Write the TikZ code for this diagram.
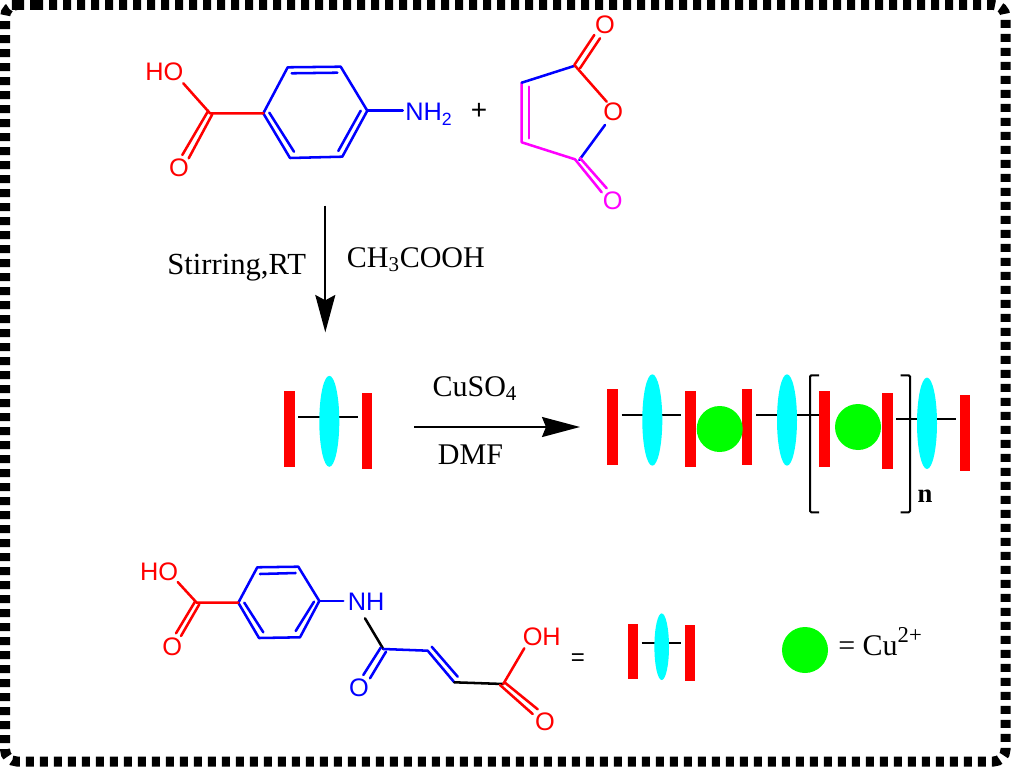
\documentclass[tikz,border=0pt]{standalone}
\usepackage{fontspec}
\setmainfont{Liberation Serif}
\newfontfamily\atomfont{Liberation Sans}
\usetikzlibrary{arrows.meta}
\definecolor{spacercyan}{RGB}{0,255,255}
\definecolor{ionlime}{RGB}{0,255,0}
\definecolor{anhpink}{RGB}{255,0,255}
\definecolor{barred}{RGB}{255,0,0}
\tikzset{
  bond/.style={line width=1.9pt,line cap=round,line join=round},
  atomlabel/.style={inner sep=0pt,anchor=base,font=\atomfont\fontsize{19}{19}\selectfont},
  reagent/.style={inner sep=0pt,anchor=base west,font=\fontsize{22.5}{24}\selectfont},
  linker/.style={line width=1.6pt},
  bracketline/.style={line width=1.5pt,rounded corners=1pt},
  rxnarrow/.style={line width=1.5pt,-{Stealth[length=28pt,width=15pt,inset=4pt]}},
  rxnarrowb/.style={line width=1.5pt,-{Stealth[length=28.5pt,width=15pt,inset=3pt]}}
}
\begin{document}
\begin{tikzpicture}[x=0.75pt,y=-0.75pt]
    \useasboundingbox (0,0) rectangle (1011,767);
    % frame
    \draw[line width=7.5pt,dash pattern=on 6pt off 4.5pt,rounded corners=9pt]
      (23,5) -- (1005.5,5) -- (1005.5,761.5) -- (5,761.5) -- (5,5) -- cycle;

    % aminobenzoic acid
    \coordinate (a1) at (263.3,113.3);
    \coordinate (a2) at (287.7,67.3);
    \coordinate (a3) at (340.7,66.7);
    \coordinate (a4) at (367.3,110.7);
    \coordinate (a5) at (342.3,156.7);
    \coordinate (a6) at (290,158);
    \coordinate (acarb) at (210,113.3);
    \node[atomlabel,barred] (aho) at (164.3,81) {HO};
    \node[atomlabel,barred] (aoxo) at (179,176) {O};
    \node[atomlabel,blue,anchor=base west] (anh) at (405,121) {NH\textsubscript{2}};
    \draw[bond,blue] (a1) -- (a2) -- (a3) -- (a4) -- (a5) -- (a6) -- cycle;
    \draw[bond,blue] (291.7,73.3) -- (337.3,72.7);
    \draw[bond,blue] (269.3,112.7) -- (294,151.7);
    \draw[bond,blue] (360.7,110.7) -- (338.3,151);
    \draw[bond,blue] (a4) -- (402.7,110.7);
    \draw[bond,barred] (a1) -- (acarb) -- (183.3,83.3);
    \draw[bond,barred] (208.3,110.7) -- (182.3,155);
    \draw[bond,barred] (212.3,114.3) -- (188.7,158.3);
    \node[atomlabel,anchor=base,font=\atomfont\fontsize{21}{21}\selectfont] (plus) at (479,119.5) {+};

    % maleic anhydride
    \coordinate (m1) at (521.7,82.7);
    \coordinate (m2) at (575,65.7);
    \coordinate (m3) at (575,159.3);
    \coordinate (m4) at (521.7,142.3);
    \node[atomlabel,barred] (mo) at (613.3,121) {O};
    \node[atomlabel,barred] (mtop) at (605,33.5) {O};
    \node[atomlabel,anhpink] (mbot) at (612.7,209) {O};
    \draw[bond,anhpink] (m1) -- (m4) -- (m3);
    \draw[bond,anhpink] (529,86.7) -- (529,138.3);
    \draw[bond,blue] (m1) -- (m2);
    \draw[bond,barred] (m2) -- (606.7,101.7);
    \draw[bond,blue] (605,125) -- (579.3,160);
    \draw[bond,barred] (574.3,65) -- (594.3,35);
    \draw[bond,barred] (580,68.3) -- (600,38.3);
    \draw[bond,anhpink] (575,159.3) -- (601.7,192.3);
    \draw[bond,anhpink] (580,158) -- (606.7,188.3);

    % first step
    \coordinate (stirtop) at (325.3,205.7);
    \coordinate (stirend) at (325.3,332.3);
    \draw[rxnarrow] (stirtop) -- (stirend);
    \node[reagent,font=\fontsize{23}{24}\selectfont] (stir) at (167,274.3) {Stirring,RT};
    \node[reagent] (acid) at (346.7,267.3) {CH\textsubscript{3}COOH};

    % ligand
    \draw[linker] (298.3,417.3) -- (358.3,417.3);
    \fill[barred] (284.3,391) rectangle (295,466.7);
    \fill[barred] (362,392.7) rectangle (372.3,468.7);
    \fill[spacercyan] (329.3,421.3) ellipse (10 and 45.5);

    % second step
    \coordinate (cutail) at (414.3,427);
    \coordinate (cuhead) at (580,427);
    \draw[rxnarrowb] (cutail) -- (cuhead);
    \node[reagent] (cuso) at (432.3,396.7) {CuSO\textsubscript{4}};
    \node[reagent] (dmf) at (437.7,464) {DMF};

    % polymer
    \draw[linker] (621.7,415.3) -- (681.3,415.3);
    \draw[linker] (756,415.3) -- (820,415.3);
    \draw[linker] (896.3,419.3) -- (956,419.3);
    \draw[bracketline] (819,375.3) -- (810,375.3) -- (810,512.3) -- (819,512.3);
    \draw[bracketline] (900.7,375.3) -- (910,375.3) -- (910,512.3) -- (900.7,512.3);
    \fill[barred] (607.3,389) rectangle (617.7,465);
    \fill[barred] (685,391) rectangle (695.7,466.7);
    \fill[barred] (742,389) rectangle (752.3,465);
    \fill[barred] (819.3,391) rectangle (830,466.7);
    \fill[barred] (882,392.7) rectangle (892.7,468.7);
    \fill[barred] (959.7,394.7) rectangle (970,470.7);
    \fill[spacercyan] (652.3,420) ellipse (10 and 45.7);
    \fill[spacercyan] (787,420) ellipse (10 and 45.7);
    \fill[spacercyan] (927,423.3) ellipse (10 and 45.7);
    \fill[ionlime] (719.7,429) circle (23);
    \fill[ionlime] (858,427) circle (23);
    \node[inner sep=0pt,anchor=base,font=\bfseries\fontsize{20}{20}\selectfont] (rep) at (925,502) {n};

    % product
    \coordinate (p1) at (238.3,602.7);
    \coordinate (p2) at (257.3,567.3);
    \coordinate (p3) at (298.3,566.7);
    \coordinate (p4) at (319.3,601);
    \coordinate (p5) at (300,637.3);
    \coordinate (p6) at (259,638);
    \coordinate (pcarb) at (196.7,602.7);
    \coordinate (pamide) at (383.3,649);
    \coordinate (pch) at (427.7,650.7);
    \coordinate (pchb) at (454.3,682.3);
    \coordinate (pacid) at (503.3,684);
    \node[atomlabel,barred] (pho) at (159,580) {HO};
    \node[atomlabel,barred] (poxo) at (172.3,655) {O};
    \node[atomlabel,blue,anchor=base west] (pnh) at (347.5,610.7) {NH};
    \node[atomlabel,blue] (poxb) at (359,696.7) {O};
    \node[atomlabel,barred,anchor=base west] (poh) at (522.5,645) {OH};
    \node[atomlabel,barred] (poxc) at (545,730.7) {O};
    \draw[bond,blue] (p1) -- (p2) -- (p3) -- (p4) -- (p5) -- (p6) -- cycle;
    \draw[bond,blue] (260,574) -- (295.7,573);
    \draw[bond,blue] (244.3,602.7) -- (263.3,632.3);
    \draw[bond,blue] (314,601.7) -- (295.7,631);
    \draw[bond,blue] (p4) -- (343.3,601);
    \draw[bond,barred] (p1) -- (pcarb) -- (177.7,582);
    \draw[bond,barred] (195,601.7) -- (176,633.3);
    \draw[bond,barred] (199.3,604.3) -- (181,636);
    \draw[bond] (365,618.3) -- (pamide);
    \draw[bond,blue] (380.7,647.7) -- (363.3,675);
    \draw[bond,blue] (386,651.7) -- (370,678.3);
    \draw[bond,blue] (pamide) -- (pch) -- (pchb);
    \draw[bond,blue] (431.7,646.7) -- (457.7,676.7);
    \draw[bond] (pchb) -- (pacid);
    \draw[bond,barred] (pacid) -- (524.3,648.3);
    \draw[bond,barred] (500,685) -- (532.7,714);
    \draw[bond,barred] (505,682.7) -- (537.7,709.3);

    % legend
    \node[inner sep=0pt,anchor=base,font=\atomfont\fontsize{18}{18}\selectfont] (eqa) at (578,665) {=};
    \draw[linker] (641.7,643.3) -- (680.7,643.3);
    \fill[barred] (627.7,624.3) rectangle (637.7,679.3);
    \fill[barred] (684.7,625.3) rectangle (694.7,681);
    \fill[spacercyan] (661.7,646.7) ellipse (7.3 and 33.3);
    \fill[ionlime] (805,650) circle (23);
    \node[reagent] (cuion) at (838,655.5) {= Cu\raisebox{.42em}{\fontsize{17}{17}\selectfont 2+}};
  \end{tikzpicture}
\end{document}
